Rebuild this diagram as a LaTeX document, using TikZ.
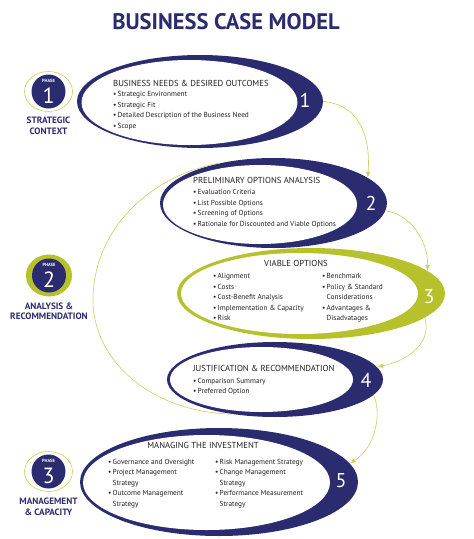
\documentclass[tikz,border=0pt]{standalone}
\usepackage{fontspec}
\setmainfont{PT Sans}
\usetikzlibrary{shapes.geometric, arrows.meta, positioning}
\definecolor{navy}{HTML}{2B2B70}
\definecolor{lime}{HTML}{B7C12C}
\definecolor{limeline}{HTML}{C8D25A}
\definecolor{ink}{HTML}{231F20}
\tikzstyle{stage} = [ellipse, fill=navy, inner sep=0]
\tikzstyle{hole} = [ellipse, fill=white, inner sep=0]
\tikzstyle{num} = [text=white, inner sep=0, font=\fontsize{20}{20}\selectfont]
\tikzstyle{head} = [text=ink, inner sep=0, font=\fontsize{8.7}{9}\selectfont]
\tikzstyle{items} = [text=ink, inner sep=0, align=left, font=\fontsize{7.3}{10.5}\selectfont]
\tikzstyle{flow} = [limeline, line width=0.6pt, -{Latex[length=6pt,width=4.5pt]}]
\tikzstyle{loopline} = [limeline, line width=0.6pt]
\tikzstyle{badge} = [circle, fill=navy, inner sep=0, minimum size=34pt]
\tikzstyle{halo} = [ellipse, draw=limeline, line width=0.6pt, inner sep=0, minimum width=48pt, minimum height=40pt]
\tikzstyle{phasetag} = [text=white, inner sep=0, font=\bfseries\fontsize{4.5}{5}\selectfont]
\tikzstyle{phasenum} = [text=white, inner sep=0, font=\fontsize{22}{22}\selectfont]
\tikzstyle{phaselabel} = [text=navy, inner sep=0, align=center, font=\bfseries\fontsize{9.2}{10.8}\selectfont]
\newcommand{\bul}{\textbullet\,}
\newcommand{\nobul}{\phantom{\textbullet\,}}
\begin{document}
\begin{tikzpicture}[x=1pt, y=-1pt]
  \useasboundingbox (0,0) rectangle (474,539);
  \node[text=navy, font=\bfseries\fontsize{22.5}{22.5}\selectfont] (title) at (226,22) {BUSINESS CASE MODEL};

  % stages: dark ellipse with a white one set off to the left
  \node[stage, minimum width=246pt, minimum height=93pt] (e1) at (200,101.5) {};
  \node[hole, minimum width=216pt, minimum height=85pt] (h1) at (189.5,102.5) {};
  \node[stage, minimum width=227pt, minimum height=90pt] (e2) at (273.5,203) {};
  \node[hole, minimum width=194pt, minimum height=79pt] (h2) at (260,204.5) {};
  \node[stage, fill=lime, minimum width=268pt, minimum height=91pt] (e3) at (311,293.5) {};
  \node[hole, minimum width=237pt, minimum height=81pt] (h3) at (299.5,293.5) {};
  \node[stage, minimum width=216pt, minimum height=75pt] (e4) at (275,379.5) {};
  \node[hole, minimum width=183pt, minimum height=65pt] (h4) at (261.5,379.5) {};
  \node[stage, minimum width=278pt, minimum height=108pt] (e5) at (219,482) {};
  \node[hole, minimum width=247pt, minimum height=95pt] (h5) at (206.5,482.5) {};

  \node[num] (n1) at (305,100) {1};
  \node[num] (n2) at (371,203.5) {2};
  \node[num] (n3) at (429,296.5) {3};
  \node[num] (n4) at (366,380) {4};
  \node[num] (n5) at (341,481) {5};

  % texts (a list is placed by the baseline of its last line)
  \node[head, anchor=base west] (t1) at (113,86.5) {BUSINESS NEEDS \& DESIRED OUTCOMES};
  \node[items, anchor=base west] (l1) at (113,128) {\bul Strategic Environment\\ \bul Strategic Fit\\ \bul Detailed Description of the Business Need\\ \bul Scope};
  \node[head, anchor=base west] (t2) at (193,183) {PRELIMINARY OPTIONS ANALYSIS};
  \node[items, anchor=base west] (l2) at (193,226) {\bul Evaluation Criteria\\ \bul List Possible Options\\ \bul Screening of Options\\ \bul Rationale for Discounted and Viable Options};
  \node[head, anchor=base] (t3) at (296,266) {VIABLE OPTIONS};
  \node[items, anchor=base west] (l3) at (213,320.5) {\bul Alignment\\ \bul Costs\\ \bul Cost-Benefit Analysis\\ \bul Implementation \& Capacity\\ \bul Risk};
  \node[items, anchor=base west] (r3) at (322,320.5) {\bul Benchmark\\ \bul Policy \& Standard\\ \nobul Considerations\\ \bul Advantages \&\\ \nobul Disadvatages};
  \node[head, anchor=base west] (t4) at (193,371) {JUSTIFICATION \& RECOMMENDATION};
  \node[items, anchor=base west] (l4) at (193,393.5) {\bul Comparison Summary\\ \bul Preferred Option};
  \node[head, anchor=base] (t5) at (203,448) {MANAGING THE INVESTMENT};
  \node[items, anchor=base west] (l5) at (108,506) {\bul Governance and Oversight\\ \bul Project Management\\ \nobul Strategy\\ \bul Outcome Management\\ \nobul Strategy};
  \node[items, anchor=base west] (r5) at (215,506) {\bul Risk Management Strategy\\ \bul Change Management\\ \nobul Strategy\\ \bul Performance Measurement\\ \nobul Strategy};

  % arrows between stages
  \draw[flow] (e1.east) .. controls (355,104) and (371,130) .. (e2.15);
  \draw[flow] (e2.-4) .. controls (410,214) and (428,240) .. (e3.11);
  \draw[flow] (e3.-12) .. controls (432,342) and (410,360) .. (e4.7);
  \draw[flow] (e4.-9) .. controls (381,410) and (378,445) .. (e5.8);
  \draw[loopline] (e4.219) .. controls (150,412) and (93,360) .. (93,300) .. controls (93,230) and (150,175) .. (e2.143);

  % phases
  \node[halo] (r1) at (48.5,91.5) {};
  \node[badge] (p1) at (48.5,91.5) {};
  \node[phasetag] at ([yshift=10.5pt]p1.center) {PHASE};
  \node[phasenum] at ([yshift=-4pt]p1.center) {1};
  \node[phaselabel, below=5pt of r1] (s1) {STRATEGIC\\CONTEXT};

  \node[halo, fill=lime, draw=none, minimum width=46pt, minimum height=42pt] (r2) at (49,275.5) {};
  \node[badge] (p2) at (49,275.5) {};
  \node[phasetag] at ([yshift=10.5pt]p2.center) {PHASE};
  \node[phasenum] at ([yshift=-4pt]p2.center) {2};
  \node[phaselabel, below=5.5pt of r2] (s2) {ANALYSIS \&\\RECOMMENDATION};

  \node[halo] (r3) at (48.5,471.5) {};
  \node[badge] (p3) at (48.5,471.5) {};
  \node[phasetag] at ([yshift=10.5pt]p3.center) {PHASE};
  \node[phasenum] at ([yshift=-4pt]p3.center) {3};
  \node[phaselabel, below=6pt of r3] (s3) {MANAGEMENT\\\& CAPACITY};
\end{tikzpicture}
\end{document}
